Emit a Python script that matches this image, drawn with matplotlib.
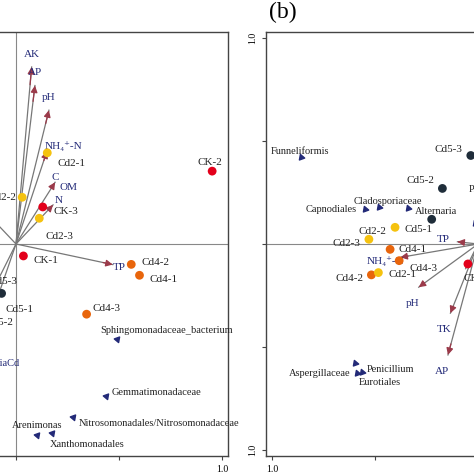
import matplotlib.pyplot as plt

plt.rcParams['font.family'] = ['Liberation Serif', 'DejaVu Serif']

# colours
RED, YEL, ORA, DRK = "#e3001b", "#f5c20f", "#e8650c", "#1f2d3a"
ARROW = "#9b3a4a"
NAVY = "#232a78"

# ---- panel (a) data ----
a_env = ["AK", "AP", "pH", "NH\u2084\u207a-N", "C", "N", "TP", "", "", ""]
a_env_x = [0.076, 0.092, 0.16, 0.15, 0.19, 0.18, 0.47, -0.35, -0.25, -0.2]
a_env_y = [0.86, 0.77, 0.65, 0.45, 0.30, 0.19, -0.10, 0.37, -0.50, -0.58]

a_pts = ["Cd2-1", "Cd2-2", "CK-3", "Cd2-3", "CK-2", "CK-1", "Cd4-2", "Cd4-1", "Cd4-3", "Cd5-1", "Cd5-3", "Cd5-2"]
a_pts_x = [0.152, 0.03, 0.13, 0.113, 0.953, 0.036, 0.56, 0.60, 0.343, -0.07, -0.13, -0.15]
a_pts_y = [0.443, 0.227, 0.18, 0.125, 0.354, -0.058, -0.099, -0.152, -0.341, -0.24, -0.18, -0.33]
a_pts_c = [YEL, YEL, RED, YEL, RED, RED, ORA, ORA, ORA, DRK, DRK, DRK]

a_sp = ["Sphingomonadaceae_bacterium", "Gemmatimonadaceae", "Nitrosomonadales/Nitrosomonadaceae",
        "Arenimonas", "Xanthomonadales"]
a_sp_x = [0.49, 0.437, 0.275, 0.10, 0.176]
a_sp_y = [-0.46, -0.74, -0.84, -0.93, -0.92]

# ---- panel (b) data ----
b_env = ["TP", "NH\u2084\u207a-N", "pH", "TK", "AP", ""]
b_env_x = [-0.10, -0.377, -0.288, -0.134, -0.146, -0.06]
b_env_y = [0.011, -0.065, -0.21, -0.336, -0.539, -0.12]

b_pts = ["Cd5-3", "Cd5-2", "Cd5-1", "Cd2-2", "Cd2-3", "Cd4-1", "Cd4-3", "Cd4-2", "Cd2-1", "CK-2"]
b_pts_x = [-0.035, -0.173, -0.225, -0.403, -0.53, -0.427, -0.383, -0.518, -0.484, -0.049]
b_pts_y = [0.43, 0.27, 0.12, 0.081, 0.023, -0.026, -0.081, -0.150, -0.139, -0.097]
b_pts_c = [DRK, DRK, DRK, YEL, YEL, ORA, ORA, ORA, YEL, RED]

b_sp = ["Funneliformis", "Capnodiales", "Cladosporiaceae", "Alternaria", "Pleosporales",
        "Aspergillaceae", "Penicillium", "Eurotiales"]
b_sp_x = [-0.858, -0.547, -0.482, -0.341, -0.016, -0.60, -0.587, -0.563]
b_sp_y = [0.424, 0.17, 0.181, 0.173, 0.103, -0.576, -0.628, -0.62]

fig = plt.figure(figsize=(4.74, 4.74), dpi=100)
W = 424 / 474
axa = fig.add_axes([-196 / 474, 18 / 474, W, W])
axb = fig.add_axes([266 / 474, 18 / 474, W, W])
for ax in (axa, axb):
    ax.set_xlim(-1.03, 1.03)
    ax.set_ylim(-1.03, 1.03)
    ax.axhline(0, color="#888888", lw=0.8)
    ax.axvline(0, color="#888888", lw=0.8)
    for s in ax.spines.values():
        s.set_color("#444444")
        s.set_linewidth(1)
    ax.set_xticks([-1, -0.5, 0, 0.5, 1])
    ax.set_yticks([-1, -0.5, 0, 0.5, 1])
    ax.set_xticklabels(["1.0", "", "", "", "1.0"], fontsize=7)
    ax.set_yticklabels(["1.0", "", "", "", "1.0"], fontsize=7, rotation=90, va="center")
    ax.tick_params(length=3, color="#444444")


def arrows(ax, xs, ys, names, lab_off):
    for x, y, n in zip(xs, ys, names):
        ax.plot([0, x], [0, y], color="#777777", lw=0.9)
        ax.annotate("", xy=(x, y), xytext=(0.9 * x, 0.9 * y),
                    arrowprops=dict(arrowstyle="-|>", color=ARROW, lw=0.9,
                                    mutation_scale=10, shrinkA=0, shrinkB=0))
        if n:
            dx, dy = lab_off.get(n, (0, 0.04))
            ax.text(x + dx, y + dy, n, fontsize=8, color=NAVY, ha="center", va="bottom")


arrows(axa, a_env_x, a_env_y, a_env,
       {"TP": (0.03, -0.035), "C": (0.0, 0.0), "N": (0.03, 0.0), "NH\u2084\u207a-N": (0.08, 0.0)})
axa.text(0.21, 0.26, "OM", fontsize=8, color=NAVY)
arrows(axb, b_env_x, b_env_y, b_env,
       {"TP": (-0.07, -0.01), "NH\u2084\u207a-N": (-0.07, -0.04), "pH": (-0.03, -0.1),
        "TK": (-0.03, -0.1), "AP": (-0.03, -0.1)})

a_lab = {"Cd2-1": (0.05, -0.05, "left"), "Cd2-2": (-0.03, 0.0, "right"), "CK-3": (0.05, -0.02, "left"),
         "Cd2-3": (0.03, -0.09, "left"), "CK-2": (-0.01, 0.04, "center"), "CK-1": (0.05, -0.02, "left"),
         "Cd4-2": (0.05, 0.01, "left"), "Cd4-1": (0.05, -0.02, "left"), "Cd4-3": (0.03, 0.03, "left"),
         "Cd5-1": (0.02, -0.08, "left"), "Cd5-3": (0.0, 0.0, "left"), "Cd5-2": (0.0, -0.05, "left")}
b_lab = {"Cd5-3": (-0.04, 0.03, "right"), "Cd5-2": (-0.04, 0.04, "right"), "Cd5-1": (-0.13, -0.05, "left"),
         "Cd2-2": (-0.04, -0.02, "right"), "Cd2-3": (-0.04, -0.02, "right"), "Cd4-1": (0.04, 0.0, "left"),
         "Cd4-3": (0.05, -0.04, "left"), "Cd4-2": (-0.04, -0.02, "right"), "Cd2-1": (0.05, -0.01, "left"),
         "CK-2": (-0.02, -0.07, "left")}

for ax, xs, ys, cs, ns, lab in ((axa, a_pts_x, a_pts_y, a_pts_c, a_pts, a_lab),
                                (axb, b_pts_x, b_pts_y, b_pts_c, b_pts, b_lab)):
    ax.scatter(xs, ys, s=40, c=cs, zorder=5, edgecolors="none")
    for x, y, n in zip(xs, ys, ns):
        dx, dy, ha = lab[n]
        ax.text(x + dx, y + dy, n, fontsize=8, ha=ha, va="center", color="#222222")

# species markers
axa.scatter(a_sp_x, a_sp_y, marker=(3, 0, 200), s=22, color=NAVY, zorder=5)
axb.scatter(b_sp_x, b_sp_y, marker=(3, 0, 20), s=22, color=NAVY, zorder=5)

a_sp_lab = [(-0.08, 0.04, "left"), (0.03, 0.02, "left"), (0.03, -0.03, "left"),
            (-0.12, 0.05, "left"), (-0.01, -0.055, "left")]
for x, y, n, (dx, dy, ha) in zip(a_sp_x, a_sp_y, a_sp, a_sp_lab):
    axa.text(x + dx, y + dy, n, fontsize=7.5, ha=ha, va="center", color="#222222")
axa.text(0.02, -0.58, "bacteriaCd", fontsize=7.5, ha="right", va="center", color=NAVY)

b_sp_lab = [(-0.15, 0.023, "left"), (-0.04, 0.0, "right"), (-0.12, 0.024, "left"), (0.034, -0.016, "left"),
            (-0.028, 0.16, "left"), (-0.02, -0.055, "right"), (0.047, 0.02, "left"), (-0.015, -0.055, "left")]
for x, y, n, (dx, dy, ha) in zip(b_sp_x, b_sp_y, b_sp, b_sp_lab):
    axb.text(x + dx, y + dy, n, fontsize=7.5, ha=ha, va="center", color="#222222")

fig.text(283 / 474, 1 - 12 / 474, "(b)", fontsize=17, ha="center", va="center")

fig.savefig("out.png", dpi=100)
